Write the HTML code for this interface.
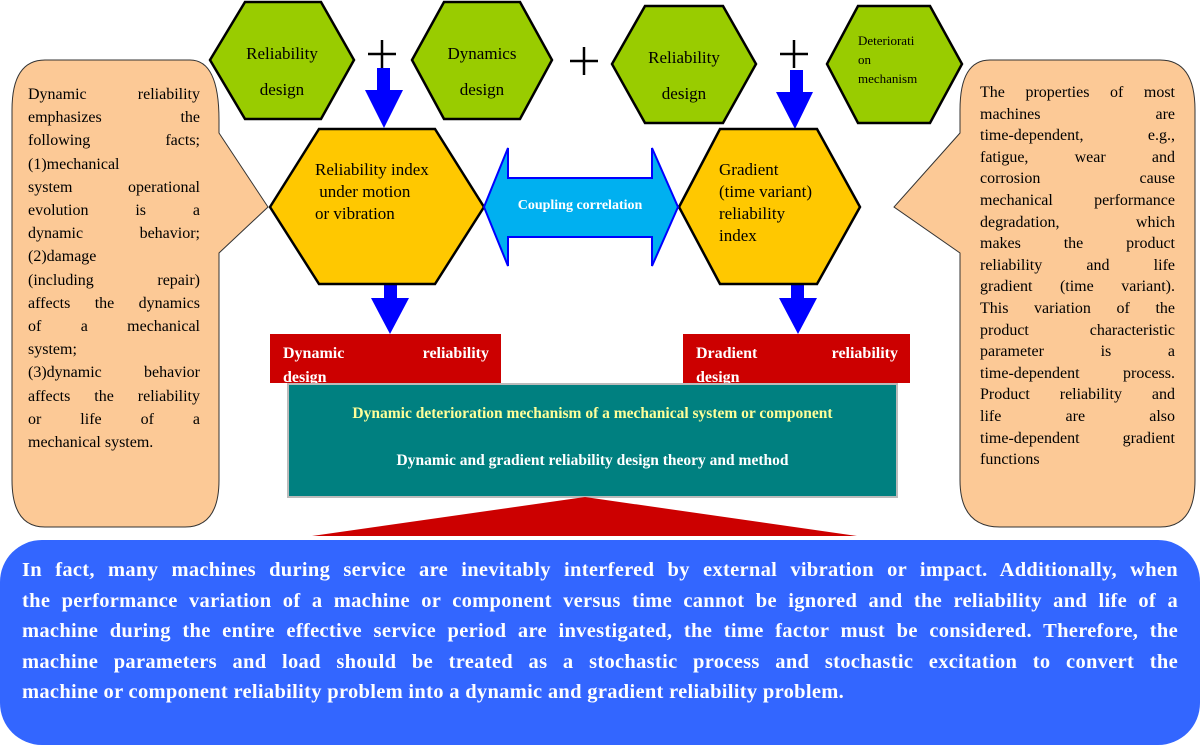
<!DOCTYPE html>
<html><head><meta charset="utf-8"><style>
body{margin:0;width:1200px;height:745px;position:relative;background:#fff;overflow:hidden;font-family:"Liberation Serif",serif}
.b{position:absolute}
.b div{text-align:justify;text-align-last:justify;white-space:nowrap}
.b div.l{text-align:left;text-align-last:left}
</style></head><body>
<svg width="1200" height="745" style="position:absolute;left:0;top:0">
<path d="M45,60 H190 Q219,60 219,120 V133 L268,207 L219,253 V480 Q219,527 185,527 H45 Q12,527 12,480 V110 Q12,60 45,60 Z" fill="#FCC996" stroke="#333" stroke-width="1"/>
<path d="M990,60 H1160 Q1195,60 1195,110 V480 Q1195,527 1160,527 H1000 Q960,527 960,480 V253 L894,207 L960,133 V110 Q960,60 990,60 Z" fill="#FCC996" stroke="#333" stroke-width="1"/>
<g fill="#99CC00" stroke="#000" stroke-width="2.5">
<polygon points="210,60 245,2 321,2 354,60 321,119 245,119"/>
<polygon points="412,60 444,2 520,2 552,60 520,119 444,119"/>
<polygon points="612,64 645,6 723,6 756,64 723,123 645,123"/>
<polygon points="827,64 858,6 930,6 962,64 930,123 858,123"/>
</g>
<g stroke="#000" stroke-width="2.5">
<line x1="368" y1="54" x2="396" y2="54"/><line x1="382" y1="40" x2="382" y2="68"/>
<line x1="570" y1="61" x2="598" y2="61"/><line x1="584" y1="47" x2="584" y2="75"/>
<line x1="780" y1="54" x2="808" y2="54"/><line x1="794" y1="40" x2="794" y2="68"/>
</g>
<g fill="#0000FF">
<polygon points="377,68 390,68 390,90 403,90 384,128 365,90 377,90"/>
<polygon points="790,70 803,70 803,92 813,92 795,129 776,92 790,92"/>
<polygon points="384,285 397,285 397,298 409,298 390,334 371,298 384,298"/>
<polygon points="791,285 804,285 804,298 817,298 798,334 779,298 791,298"/>
</g>
<g fill="#FFC800" stroke="#000" stroke-width="2.5">
<polygon points="270,207 319,129 435,129 484,207 435,284 319,284"/>
<polygon points="679,207 720,129 817,129 860,207 817,284 720,284"/>
</g>
<polygon points="484,207 508,148 508,178 652,178 652,148 678,207 652,266 652,237 508,237 508,266" fill="#00B0F0" stroke="#0000FF" stroke-width="2"/>
<rect x="270" y="334" width="231" height="49" fill="#CC0000"/>
<rect x="683" y="334" width="227" height="49" fill="#CC0000"/>
<rect x="288" y="384" width="609" height="113" fill="#008080" stroke="#bbb" stroke-width="2"/>
<polygon points="585,497 857,536 312,536" fill="#CC0000"/>
<rect x="0" y="540" width="1200" height="205" rx="42" fill="#3366FF"/>
</svg>

<div style="position:absolute;left:210px;top:36px;width:144px;text-align:center;font-size:17px;line-height:36px">Reliability<br>design</div>
<div style="position:absolute;left:412px;top:36px;width:140px;text-align:center;font-size:17px;line-height:36px">Dynamics<br>design</div>
<div style="position:absolute;left:612px;top:40px;width:144px;text-align:center;font-size:17px;line-height:36px">Reliability<br>design</div>
<div style="position:absolute;left:858px;top:31px;width:100px;font-size:13px;line-height:19px">Deteriorati<br>on<br>mechanism</div>
<div style="position:absolute;left:315px;top:159px;width:150px;font-size:17px;line-height:22px">Reliability index<br>&nbsp;under motion<br>or vibration</div>
<div style="position:absolute;left:719px;top:159px;width:130px;font-size:17px;line-height:22px">Gradient<br>(time variant)<br>reliability<br>index</div>
<div style="position:absolute;left:508px;top:198px;width:144px;text-align:center;font-size:14px;font-weight:bold;color:#fff">Coupling correlation</div>

<div style="position:absolute;left:283px;top:342px;width:206px;height:41px;overflow:hidden;color:#fff;font-weight:bold;font-size:16px;line-height:24px"><span style="float:right">reliability</span>Dynamic<br>design</div>
<div style="position:absolute;left:696px;top:342px;width:202px;height:41px;overflow:hidden;color:#fff;font-weight:bold;font-size:16px;line-height:24px"><span style="float:right">reliability</span>Dradient<br>design</div>

<div style="position:absolute;left:288px;top:405px;width:609px;text-align:center;font-weight:bold;font-size:15.5px;color:#FFFF99">Dynamic deterioration mechanism of a mechanical system or component</div>
<div style="position:absolute;left:288px;top:452px;width:609px;text-align:center;font-weight:bold;font-size:15.5px;color:#fff">Dynamic and gradient reliability design theory and method</div>

<div class="b" style="left:28px;top:83px;width:172px;font-size:16px;line-height:23.2px">
<div>Dynamic reliability</div><div>emphasizes the</div><div>following facts;</div><div class="l">(1)mechanical</div><div>system operational</div><div>evolution is a</div><div>dynamic behavior;</div><div class="l">(2)damage</div><div>(including repair)</div><div>affects the dynamics</div><div>of a mechanical</div><div class="l">system;</div><div>(3)dynamic behavior</div><div>affects the reliability</div><div>or life of a</div><div class="l">mechanical system.</div>
</div>
<div class="b" style="left:980px;top:82px;width:195px;font-size:16px;line-height:21.6px">
<div>The properties of most</div><div>machines are</div><div>time-dependent, e.g.,</div><div>fatigue, wear and</div><div>corrosion cause</div><div>mechanical performance</div><div>degradation, which</div><div>makes the product</div><div>reliability and life</div><div>gradient (time variant).</div><div>This variation of the</div><div>product characteristic</div><div>parameter is a</div><div>time-dependent process.</div><div>Product reliability and</div><div>life are also</div><div>time-dependent gradient</div><div class="l">functions</div>
</div>

<div class="b" style="left:22px;top:555px;width:1156px;color:#fff;font-weight:bold;font-size:20.5px;line-height:30.5px;letter-spacing:0.3px">
<div>In fact, many machines during service are inevitably interfered by external vibration or impact. Additionally, when</div>
<div>the performance variation of a machine or component versus time cannot be ignored and the reliability and life of a</div>
<div>machine during the entire effective service period are investigated, the time factor must be considered. Therefore, the</div>
<div>machine parameters and load should be treated as a stochastic process and stochastic excitation to convert the</div>
<div class="l">machine or component reliability problem into a dynamic and gradient reliability problem.</div>
</div>
</body></html>
